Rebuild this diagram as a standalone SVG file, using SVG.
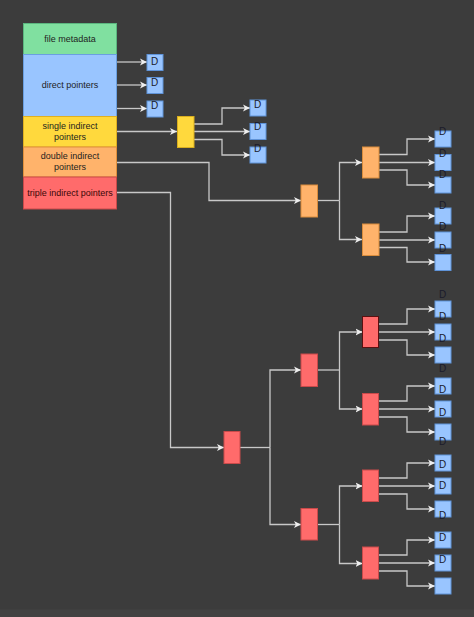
<svg xmlns="http://www.w3.org/2000/svg" width="474" height="617" viewBox="0 0 474 617">
<style>
.lbl{font-family:"Liberation Sans",Arial,sans-serif;font-size:9px;fill:#1e1e1e;text-anchor:middle}
.d{font-family:"Liberation Sans",Arial,sans-serif;font-size:10px;fill:#1b1b2b;text-anchor:middle}
.dbox{fill:#99c5ff;stroke:#5f93d8;stroke-width:1}
.yel{fill:#ffd93d;stroke:#d9ae1f;stroke-width:1}
.org{fill:#ffb36b;stroke:#d98c3c;stroke-width:1}
.red{fill:#ff6b6b;stroke:#c94a4a;stroke-width:1}
.con path{fill:none;stroke:#c8c8c8;stroke-width:1.3}
.con path.a{marker-end:url(#ah)}
</style>
<defs>
<marker id="ah" markerWidth="8" markerHeight="8" refX="7" refY="4" orient="auto" markerUnits="userSpaceOnUse">
<path d="M0,0.5 L7,4 L0,7.5 L1.8,4 Z" fill="#eeeeee"/>
</marker>
</defs>
<rect x="0" y="0" width="474" height="617" fill="#3c3c3c"/>
<rect x="0" y="609.5" width="474" height="7.5" fill="#424242"/>

<g id="inode">
<g id="file-metadata"><rect x="23.5" y="23.5" width="93" height="31" fill="#80e0a0" stroke="#5bb67f"/><text class="lbl" x="70" y="41.5">file metadata</text></g>
<g id="direct-pointers"><rect x="23.5" y="54.5" width="93" height="62" fill="#99c5ff" stroke="#6a9fe0"/><text class="lbl" x="70" y="88">direct pointers</text></g>
<g id="single-indirect"><rect x="23.5" y="116.5" width="93" height="30.5" fill="#ffd93d" stroke="#e0b020"/><text class="lbl" x="70" y="129">single indirect</text><text class="lbl" x="70" y="140">pointers</text></g>
<g id="double-indirect"><rect x="23.5" y="147" width="93" height="30" fill="#ffb36b" stroke="#e0903c"/><text class="lbl" x="70" y="159">double indirect</text><text class="lbl" x="70" y="170">pointers</text></g>
<g id="triple-indirect"><rect x="23.5" y="177" width="93" height="32" fill="#ff6b6b" stroke="#c94a4a"/><text class="lbl" x="70" y="196" style="fill:#3a0808">triple indirect pointers</text></g>
</g>

<g id="connectors" class="con">
<path class="a" d="M117,62 H147"/>
<path class="a" d="M117,85 H147"/>
<path class="a" d="M117,108.5 H147"/>
<path class="a" d="M117,131.5 H177"/>
<path class="a" d="M194,124 H222 V108 H250"/>
<path class="a" d="M194,131.5 H250"/>
<path class="a" d="M194,139.5 H222 V155 H250"/>
<path class="a" d="M117,162.5 H209 V200.5 H301"/>
<path d="M317.5,200.5 H339.5"/>
<path class="a" d="M339.5,200.5 V162.5 H362"/>
<path class="a" d="M339.5,200.5 V239.5 H362"/>
<path class="a" d="M379,154.5 H407 V139 H435"/>
<path class="a" d="M379,162.5 H435"/>
<path class="a" d="M379,170 H407 V185 H435"/>
<path class="a" d="M379,232 H407 V216 H435"/>
<path class="a" d="M379,240 H435"/>
<path class="a" d="M379,247.5 H407 V262 H435"/>
<path class="a" d="M117,192.5 H170.5 V447.5 H224"/>
<path d="M240,447.5 H270"/>
<path class="a" d="M270,447.5 V370 H301"/>
<path class="a" d="M270,447.5 V524.5 H301"/>
<path d="M317.5,370 H339.5"/>
<path class="a" d="M339.5,370 V332 H362.5"/>
<path class="a" d="M339.5,370 V409 H362.5"/>
<path class="a" d="M379,324 H407 V309 H435"/>
<path class="a" d="M379,332 H435"/>
<path class="a" d="M379,340 H407 V355 H435"/>
<path class="a" d="M379,401 H407 V386 H435"/>
<path class="a" d="M379,409 H435"/>
<path class="a" d="M379,417 H407 V432 H435"/>
<path d="M317.5,524.5 H339.5"/>
<path class="a" d="M339.5,524.5 V486 H362.5"/>
<path class="a" d="M339.5,524.5 V563.5 H362.5"/>
<path class="a" d="M379,478 H407 V463 H435"/>
<path class="a" d="M379,486 H435"/>
<path class="a" d="M379,494 H407 V509 H435"/>
<path class="a" d="M379,555 H407 V540 H435"/>
<path class="a" d="M379,563 H435"/>
<path class="a" d="M379,571 H407 V586 H435"/>
</g>

<g id="single-node"><rect class="yel" x="177.5" y="116.5" width="16.5" height="31"/></g>
<g id="double-root"><rect class="org" x="301" y="185" width="16.5" height="32"/></g>
<g id="double-child-1"><rect class="org" x="362.5" y="147" width="16.5" height="31"/></g>
<g id="double-child-2"><rect class="org" x="362.5" y="224" width="16.5" height="31.5"/></g>
<g id="triple-root"><rect class="red" x="224" y="431.5" width="16" height="32"/></g>
<g id="triple-mid-1"><rect class="red" x="301" y="354" width="16.5" height="32.5"/></g>
<g id="triple-mid-2"><rect class="red" x="301" y="508.5" width="16.5" height="31.5"/></g>
<g id="triple-leaf-1"><rect class="red" x="362.5" y="316.5" width="16" height="31" style="stroke:#5c1010"/></g>
<g id="triple-leaf-2"><rect class="red" x="362.5" y="393.5" width="16" height="31.5"/></g>
<g id="triple-leaf-3"><rect class="red" x="362.5" y="470" width="16" height="31.5"/></g>
<g id="triple-leaf-4"><rect class="red" x="362.5" y="547" width="16" height="32"/></g>

<g id="data-blocks">
<g id="d1"><rect class="dbox" x="147" y="54.5" width="16" height="16"/></g>
<g id="d2"><rect class="dbox" x="147" y="77.5" width="16" height="16"/></g>
<g id="d3"><rect class="dbox" x="147" y="101" width="16" height="16"/></g>
<g id="d4"><rect class="dbox" x="250" y="100" width="16" height="16"/></g>
<g id="d5"><rect class="dbox" x="250" y="123.5" width="16" height="16"/></g>
<g id="d6"><rect class="dbox" x="250" y="147" width="16" height="16"/></g>
<g id="d7"><rect class="dbox" x="435" y="131" width="16" height="16"/></g>
<g id="d8"><rect class="dbox" x="435" y="154.5" width="16" height="16"/></g>
<g id="d9"><rect class="dbox" x="435" y="177" width="16" height="16"/></g>
<g id="d10"><rect class="dbox" x="435" y="208" width="16" height="16"/></g>
<g id="d11"><rect class="dbox" x="435" y="232" width="16" height="16"/></g>
<g id="d12"><rect class="dbox" x="435" y="254.5" width="16" height="16"/></g>
<g id="d13"><rect class="dbox" x="435" y="301" width="16" height="16"/></g>
<g id="d14"><rect class="dbox" x="435" y="324" width="16" height="16"/></g>
<g id="d15"><rect class="dbox" x="435" y="347" width="16" height="16"/></g>
<g id="d16"><rect class="dbox" x="435" y="378" width="16" height="16"/></g>
<g id="d17"><rect class="dbox" x="435" y="401" width="16" height="16"/></g>
<g id="d18"><rect class="dbox" x="435" y="424" width="16" height="16"/></g>
<g id="d19"><rect class="dbox" x="435" y="455" width="16" height="16"/></g>
<g id="d20"><rect class="dbox" x="435" y="478" width="16" height="16"/></g>
<g id="d21"><rect class="dbox" x="435" y="501" width="16" height="16"/></g>
<g id="d22"><rect class="dbox" x="435" y="532" width="16" height="16"/></g>
<g id="d23"><rect class="dbox" x="435" y="555" width="16" height="16"/></g>
<g id="d24"><rect class="dbox" x="435" y="578" width="16" height="16"/></g>
</g>

<g id="data-labels">
<text class="d" x="154.5" y="65.3">D</text>
<text class="d" x="154.5" y="86.3">D</text>
<text class="d" x="154.5" y="109.3">D</text>
<text class="d" x="257.5" y="107.9">D</text>
<text class="d" x="257.5" y="130.1">D</text>
<text class="d" x="257.5" y="151.9">D</text>
<text class="d" x="442.5" y="135.3">D</text>
<text class="d" x="442.5" y="156.9">D</text>
<text class="d" x="442.5" y="177.6">D</text>
<text class="d" x="442.5" y="208.6">D</text>
<text class="d" x="442.5" y="230.3">D</text>
<text class="d" x="442.5" y="251.9">D</text>
<text class="d" x="442.5" y="297.6">D</text>
<text class="d" x="442.5" y="319.6">D</text>
<text class="d" x="442.5" y="341.6">D</text>
<text class="d" x="442.5" y="371.6">D</text>
<text class="d" x="442.5" y="392.6">D</text>
<text class="d" x="442.5" y="415.6">D</text>
<text class="d" x="442.5" y="444.6">D</text>
<text class="d" x="442.5" y="467.6">D</text>
<text class="d" x="442.5" y="488.6">D</text>
<text class="d" x="442.5" y="518.6">D</text>
<text class="d" x="442.5" y="540.6">D</text>
<text class="d" x="442.5" y="562.6">D</text>
</g>
</svg>
